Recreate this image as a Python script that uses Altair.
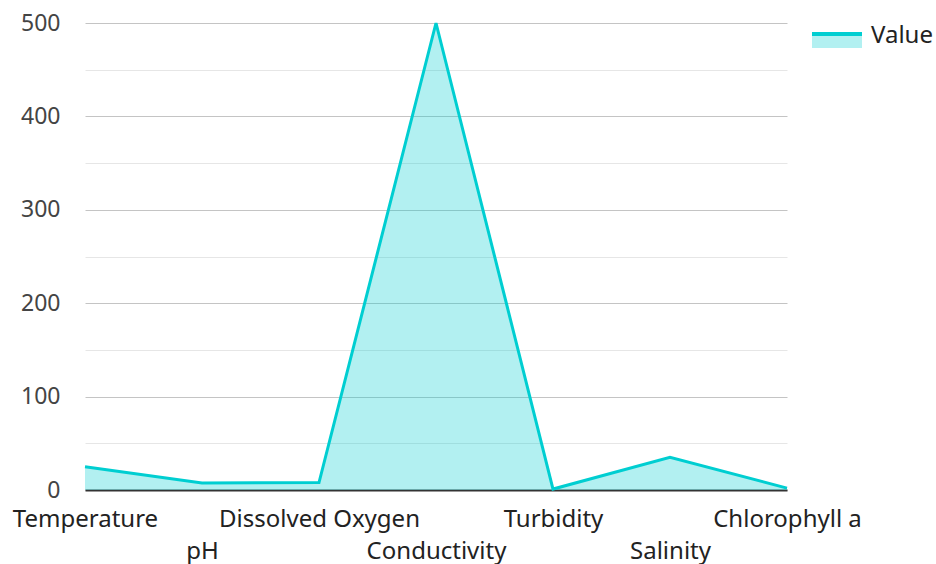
import altair as alt
import pandas as pd

categories = ["Temperature", "pH", "Dissolved Oxygen", "Conductivity", "Turbidity", "Salinity", "Chlorophyll a"]
values = [25, 7.5, 8, 500, 1, 35, 2]
legend_labels = ["Value"]

df = pd.DataFrame({"category": categories, "value": values})
leg = pd.DataFrame({"label": legend_labels})

TEAL = "#00CED1"
FONT = "Noto Sans"

cat_js = "[" + ",".join("'" + c + "'" for c in categories) + "]"

x = alt.X(
    "category:N",
    sort=categories,
    scale=alt.Scale(type="point", padding=0),
    axis=alt.Axis(
        title=None,
        labelAngle=0,
        labelFont=FONT,
        labelFontSize=24,
        labelColor="#222222",
        labelPadding=17,
        labelLineHeight=32,
        labelLimit=0,
        labelExpr="indexof(" + cat_js + ", datum.value) % 2 ? ['', datum.value] : datum.value",
        ticks=False,
        domainColor="#333333",
        domainWidth=2,
        grid=False,
        labelOverlap=False,
    ),
)
y = alt.Y(
    "value:Q",
    scale=alt.Scale(domain=[0, 500], nice=False),
    axis=alt.Axis(
        title=None,
        values=list(range(0, 501, 50)),
        labelExpr="datum.value % 100 ? '' : datum.label",
        labelFont=FONT,
        labelFontSize=23,
        labelColor="#444444",
        labelPadding=25,
        domain=False,
        ticks=False,
        gridColor=alt.expr("datum.value % 100 ? '#e6e6e6' : '#c4c4c4'"),
        gridWidth=1,
    ),
)

area = alt.Chart(df).mark_area(color=TEAL, fillOpacity=0.3).encode(x=x, y=y)
line = alt.Chart(df).mark_line(color=TEAL, strokeWidth=3).encode(x=x, y=y)

leg_rect = alt.Chart(leg).mark_rect(color=TEAL, opacity=0.3).encode(
    x=alt.value(727), x2=alt.value(777), y=alt.value(11), y2=alt.value(25)
)
leg_rule = alt.Chart(leg).mark_rule(color=TEAL, strokeWidth=4).encode(
    x=alt.value(727), x2=alt.value(777), y=alt.value(11)
)
leg_text = alt.Chart(leg).mark_text(
    align="left", baseline="middle", font=FONT, fontSize=24, color="#222222"
).encode(text="label:N", x=alt.value(786), y=alt.value(13))

chart = (
    alt.layer(area, line, leg_rect, leg_rule, leg_text)
    .properties(
        width=702,
        height=467,
        autosize=alt.AutoSizeParams(type="none"),
        padding={"left": 85, "top": 23, "right": 149, "bottom": 74},
    )
    .configure_view(stroke=None)
)

chart.save("out.html", embed_options={"renderer": "svg", "actions": False})
